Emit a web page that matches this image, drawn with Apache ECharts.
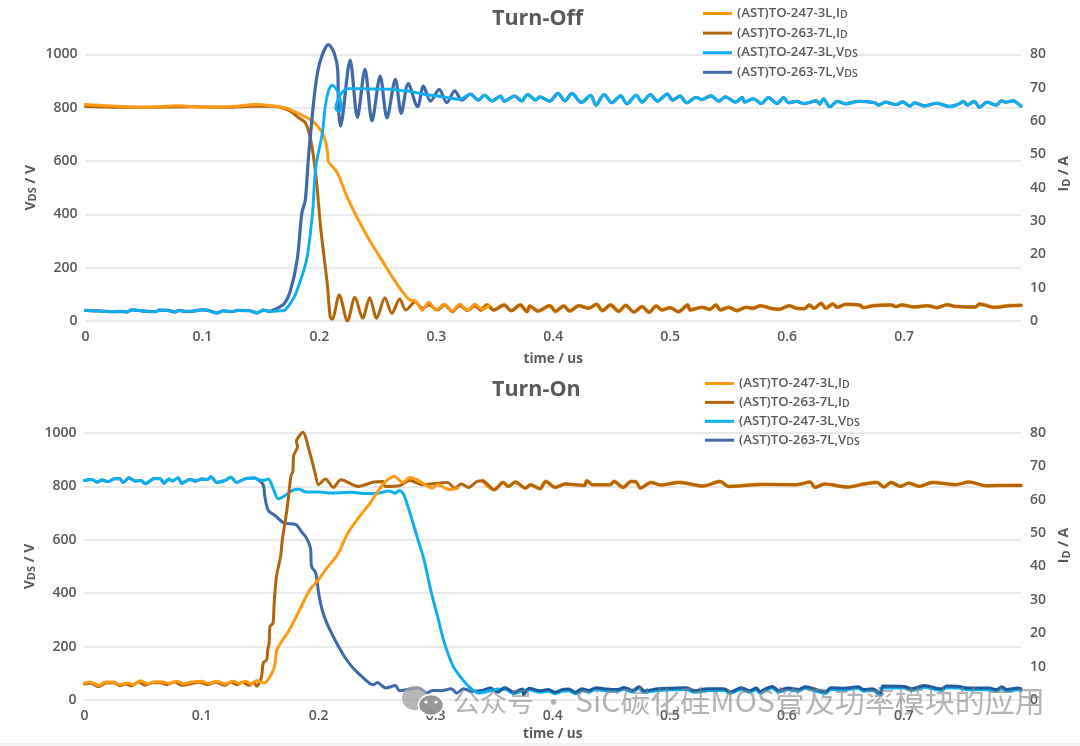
<!DOCTYPE html>
<html>
<head>
<meta charset="utf-8">
<style>html,body{margin:0;padding:0;background:#fff}#chart{width:1080px;height:746px}</style>
<script src="https://cdn.jsdelivr.net/npm/echarts@6/dist/echarts.min.js"></script>
</head>
<body>
<div id="chart"></div>
<script>
// Switching waveforms of two SiC MOSFET packages. Time in us, VDS in volts, ID in amperes.
const seriesNames = ['(AST)TO-247-3L,ID', '(AST)TO-263-7L,ID', '(AST)TO-247-3L,VDS', '(AST)TO-263-7L,VDS'];
const xTicksMax = 0.8;

// ---- Turn-off ----
const offVdsBaseT = [0,.01,.02,.03,.035,.04,.05,.06,.063,.07,.077,.08,.085,.09,.1,.105,.112,.118,.125,.13,.14,.147,.152,.157];
const offVdsBaseV = [40,38,35,36,34,42,37,35,41,40,34,40,36,36,42,40,30,38,35,40,39,30,41,36];

const offVds247T = [.165,.17,.176,.18,.189,.194,.197,.2025,.205,.208,.211,.2157,.2186,.217,.214,.2157,.2186,.2245,.24,.26,.27,.28,.29,.30,.31,.32];
const offVds247V = [38,40,72,104,229,400,580,704,804,866,885,860,804,785,797,829,854,872,871,870,865,860,850,845,838,832];

const offVds263T = [.16,.165,.17,.175,.181,.185,.188,.1907,.1966,.201,.2078,.2128,.2157,.2163,.218,.2263,.2325,.239,.245,.252,.2578,.265,.27,.276,.284,.289,.295,.3025,.309,.3158,.3217];
const offVds263V = [40,50,65,110,229,404,454,616,879,979,1037,1004,941,804,731,979,764,944,751,919,762,907,779,891,804,881,825,869,819,864,829];

const offVdsTailT = [.329,.336,.341,.348,.355,.358,.367,.373,.378,.385,.3885,.397,.404,.41,.416,.424,.432,.4365,.4435,.45,.4577,.463,.471,.476,.483,.489,.4975,.502,.5085,.514,.5224,.527,.5348,.5415,.547,.556,.5615,.5636,.571,.578,.584,.5915,.597,.601,.608,.6145,.625,.628,.631,.6365,.643,.65,.6607,.675,.678,.684,.693,.699,.705,.709,.717,.728,.739,.746,.751,.754,.76,.7645,.771,.779,.783,.787,.793,.8];
const offVdsTailV = [851,829,847,826,844,825,844,826,850,829,841,825,854,826,854,820,847,810,850,819,845,815,847,821,850,825,851,829,844,819,839,831,845,825,841,821,839,821,834,816,838,816,838,819,824,816,826,814,834,804,824,815,824,819,810,821,812,822,806,819,807,817,805,812,824,810,824,802,821,810,826,821,826,806];

const offId247T = [0,.02,.05,.08,.1,.13,.145,.16,.17,.176,.185,.1937,.201,.2054,.207,.2078,.2128,.217,.223,.232,.242,.2525,.2613,.27,.2775,.282,.288,.2937,.2996,.307,.3137,.32,.3267,.333,.339,.345];
const offId247A = [65,64.6,64.2,64.6,64.2,64.5,65,64.6,64,63.3,61.8,60.1,57.3,53.8,50.3,47.8,45.8,43.3,37.8,31.3,24.8,18.8,13.8,9.3,6.3,6.1,3.3,5.6,3.3,5,3,5,3.3,5,3.5,4.6];

const offId263T = [0,.03,.06,.09,.12,.145,.16,.17,.176,.182,.188,.192,.195,.198,.201,.204,.207,.2092,.211,.217,.224,.2304,.237,.243,.249,.256,.262,.2687,.274,.282,.288,.2937,.301,.307,.3137,.32,.3267,.333];
const offId263A = [64.4,64.2,64.2,64.3,64.2,64.5,64.5,63.8,62.8,61.1,59.5,55.3,49.3,40.3,28.3,19.3,10.3,1.3,.5,7.8,0,7.1,.8,7,.8,7,2.3,6.6,3.3,5.8,3.8,4.8,3.3,4.8,2.8,4.6,3.1,4.6];

const offIdTailT = [.338,.3437,.349,.358,.364,.3717,.3776,.38,.387,.397,.402,.409,.414,.422,.43,.437,.442,.449,.456,.462,.469,.476,.482,.488,.493,.5,.507,.515,.517,.527,.534,.539,.543,.55,.557,.565,.571,.577,.586,.593,.602,.608,.615,.619,.623,.629,.633,.639,.643,.65,.662,.665,.674,.689,.693,.698,.709,.72,.728,.737,.743,.761,.7645,.777,.79,.8];
const offIdTailA = [3.3,4.8,3.3,4.8,3.1,4.8,2.8,4.5,3,4.6,2.9,4.5,3,4.6,3.8,5,3.1,4.8,2.9,4.7,2.7,4.3,2.6,4.5,3.3,4,2.8,4.8,3.3,4.1,3.5,4.8,3.3,4.1,3.1,4.1,3.8,4.6,3.8,3.5,4.6,3.8,3.7,4.8,3.8,5.3,3.8,5.1,4.1,5,4.8,4,4.6,4.8,4.3,4.8,4.2,4.6,4,4.9,4.4,4.2,5.1,4.1,4.6,4.7];

// ---- Turn-on ----
const onVdsStartT = [0,.006,.011,.015,.02,.025,.03,.033,.038,.043,.048,.052,.055,.06,.065,.068,.072,.075,.08,.083,.09,.095,.1,.105,.108,.113,.12,.125,.13,.138,.145,.148];
const onVdsStartV = [822,826,816,824,818,828,830,814,832,820,822,810,818,830,828,812,828,820,832,812,826,820,828,826,836,815,822,834,815,830,831,826];

const onVds247T = [.1527,.157,.1615,.1654,.1704,.1778,.183,.1896,.2014,.21,.228,.24,.2515,.26,.2656,.269,.2727,.278,.284,.29,.2957,.3016,.3075,.315,.322,.3296,.337,.344,.352];
const onVds247V = [822,828,788,754,763,785,789,779,779,775,778,773,775,783,775,785,769,700,613,526,413,313,213,126,82,45,26,32,40];

const onVds247TailT = [.352,.36,.3665,.374,.38,.389,.396,.402,.408,.4136,.4195,.425,.431,.437,.446,.455,.461,.468,.474,.478,.49,.499,.514,.521,.5315,.546,.552,.561,.568,.574,.577,.5816,.5875,.593,.601,.61,.6155,.623,.633,.6376,.649,.661,.6656,.673,.68,.682,.7,.707,.717,.732,.7365,.747,.754,.773,.779,.7835,.788,.797,.8];
const onVds247TailV = [40,40,24,35,38,29,33,24,33,35,24,36,30,40,35,33,41,30,44,29,36,38,40,29,36,36,26,40,29,39,26,36,45,30,39,33,44,36,25,40,38,44,33,36,20,46,45,36,48,36,46,45,39,39,33,44,33,39,36];

const onVds263T = [.1527,.154,.157,.163,.1704,.1807,.185,.1896,.193,.194,.1975,.2,.203,.207,.2146,.222,.2294,.2367,.244,.247,.25,.2574,.2656,.269,.278,.2854,.2927,.297,.3045,.3134,.318,.3237,.33];
const onVds263V = [806,763,710,690,663,657,632,607,569,500,476,401,338,288,220,163,120,89,61,57,66,45,54,35,41,45,26,36,35,42,26,42,32];

const onVds263TailT = [.33,.34,.347,.353,.359,.3665,.374,.375,.38,.389,.396,.402,.408,.4136,.4195,.425,.431,.437,.446,.455,.461,.468,.474,.478,.49,.499,.514,.521,.5315,.546,.552,.561,.568,.574,.577,.5816,.5875,.593,.601,.61,.6155,.623,.633,.6376,.649,.661,.6656,.673,.68,.682,.7,.707,.717,.732,.7365,.747,.754,.773,.779,.7835,.788,.797,.8];
const onVds263TailV = [32,36,45,29,47,29,41,20,44,35,39,29,39,41,29,42,36,46,41,39,47,36,50,35,42,44,46,35,42,42,31,46,35,45,32,42,51,36,45,39,50,42,31,46,44,50,39,42,26,52,51,42,54,42,52,51,45,45,39,50,39,45,42];

const onId247T = [0,.005,.012,.018,.025,.03,.037,.042,.048,.054,.06,.067,.072,.079,.085,.09,.1,.106,.113,.12,.127,.132,.138,.142,.147,.154,.1586,.1624,.164,.1675,.175,.1837,.1925,.2,.207,.216,.225,.2338,.244,.2515,.259,.2647,.272,.278,.284,.291,.297,.3016,.312,.319];
const onId247A = [5,5.4,4.4,5.4,5.4,4.6,5.1,4.6,5.8,4.8,5.5,5.4,5,5.6,4.8,5.3,5.6,5,5.6,4.8,5.6,5,5.6,4.8,5.8,5.1,7.1,10.1,14.6,17,21,27,33,36.1,39.5,43.5,50,54.5,59,63,66,67,65.2,66.7,66,64.5,63.5,64.5,63,63.5];

const onId263T = [0,.005,.012,.018,.025,.03,.035,.04,.046,.052,.058,.065,.07,.077,.083,.09,.098,.105,.112,.12,.125,.13,.135,.14,.145,.147,.151,.1527,.1557,.1565,.1577,.1585,.161,.162,.164,.1675,.169,.1733,.1763,.178,.1785,.182,.181,.1845,.1865,.1925,.197,.2,.2058,.2126,.219,.2338,.247,.255,.2568,.269,.278,.288,.31,.3163,.322,.328,.3355];
const onId263A = [4.8,5,4,5.1,5.2,4.3,4.8,4.2,5.4,4.4,5.2,5.2,4.6,5.4,4.4,4.8,5.3,4.6,5.3,4.4,5.3,4.6,5.3,4.4,5.2,4.1,6.6,11.1,12.1,15,17,22.1,23,29,37,43,48,58,67,68.5,73,76,77.5,79.6,80.2,74,68,64.5,66.2,63.7,66,64,65.3,65.5,64,64.2,65.8,64.5,65.2,63.5,64.7,63.7,65.5];

const onIdTailT = [.34,.35,.3576,.362,.368,.3768,.381,.389,.394,.402,.4106,.427,.429,.434,.449,.4525,.46,.467,.471,.475,.484,.492,.508,.5286,.543,.55,.5787,.608,.62,.624,.632,.652,.6656,.677,.683,.689,.697,.704,.713,.7246,.744,.7556,.77,.788,.8];
const onIdTailA = [65.7,63,65.2,64,65.3,63.5,64.5,63.3,65.5,63.7,64.7,64.3,65.7,64.5,64.5,65.5,63.7,65.5,65.4,63.5,65.2,64.4,65.2,64.1,65.5,64,64.6,64.5,65.3,63.7,64.7,63.8,64.7,65.2,63.8,65.2,64,65,64,65.2,64.5,65.3,64.2,64.3,64.3];

const colors = { id247: '#FF9A12', id263: '#B4650C', vds247: '#0CB0F0', vds263: '#3F69A9', vds263Overlap: '#1C5A9F' };
const labelGrey = '#595959';
const uiFont = '"Open Sans", "Noto Sans", sans-serif';

const zip = (ts, vs) => ts.map((t, i) => [t, vs[i]]);
const trace = (name, color, idx, yIdx, data, z, width) => ({
  type: 'line', name, xAxisIndex: idx, yAxisIndex: yIdx, data, z,
  showSymbol: false, smooth: 0.3, smoothMonotone: null, clip: false,
  lineStyle: { color, width: width || 3, cap: 'round', join: 'round' },
  itemStyle: { color }, emphasis: { disabled: true }
});

const series = [
  // Turn-off panel: left axes index 0, right axes index 1
  trace(seriesNames[0], colors.id247, 0, 1, zip(offIdTailT, offIdTailA), 2, 3.8),
  trace(seriesNames[1], colors.id263, 0, 1, zip(offId263T.concat(offIdTailT), offId263A.concat(offIdTailA)), 3),
  trace(seriesNames[0], colors.id247, 0, 1, zip(offId247T, offId247A), 4),
  trace(seriesNames[3], colors.vds263, 0, 0, zip(offVdsBaseT.concat(offVds263T, offVdsTailT), offVdsBaseV.concat(offVds263V, offVdsTailV)), 5, 3.2),
  trace(seriesNames[2], colors.vds247, 0, 0, zip(offVdsBaseT.concat(offVds247T, offVdsTailT), offVdsBaseV.concat(offVds247V, offVdsTailV)), 6, 2.9),
  // Turn-on panel: left axes index 2, right axes index 3
  trace(seriesNames[2], colors.vds247, 1, 2, zip(onVds247TailT, onVds247TailV), 2, 3.2),
  trace(seriesNames[3], colors.vds263, 1, 2, zip(onVdsStartT.concat(onVds263T), onVdsStartV.concat(onVds263V)), 3),
  trace(seriesNames[3], colors.vds263Overlap, 1, 2, zip(onVds263TailT, onVds263TailV), 3),
  trace(seriesNames[2], colors.vds247, 1, 2, zip(onVdsStartT.concat(onVds247T), onVdsStartV.concat(onVds247V)), 4),
  trace(seriesNames[0], colors.id247, 1, 3, zip(onIdTailT, onIdTailA), 5, 3.6),
  trace(seriesNames[1], colors.id263, 1, 3, zip(onId263T.concat(onIdTailT), onId263A.concat(onIdTailA)), 6),
  trace(seriesNames[0], colors.id247, 1, 3, zip(onId247T, onId247A), 7)
];

const axisText = { color: labelGrey, fontFamily: uiFont, fontWeight: 600, fontSize: 14 };
const subRich = {
  m: { color: labelGrey, fontFamily: uiFont, fontWeight: 700, fontSize: 14 },
  s: { color: labelGrey, fontFamily: uiFont, fontWeight: 700, fontSize: 11, verticalAlign: 'bottom', padding: [4, 0, 0, 0] }
};

const xAxisFor = (gridIndex, nameGap) => ({
  type: 'value', gridIndex, min: 0, max: xTicksMax, interval: 0.1,
  name: 'time / us', nameLocation: 'middle', nameGap, nameMoveOverlap: false,
  nameTextStyle: { color: labelGrey, fontFamily: uiFont, fontWeight: 700, fontSize: 13.5 },
  axisLine: { show: false }, axisTick: { show: false }, splitLine: { show: false },
  axisLabel: Object.assign({ margin: 9, showMaxLabel: false, formatter: v => (v === 0 ? '0' : v.toFixed(1)) }, axisText)
});
const leftAxisFor = gridIndex => ({
  type: 'value', gridIndex, min: 0, max: 1000, interval: 200,
  name: '{m|V}{s|DS}{m| / V}', nameLocation: 'middle', nameGap: 47, nameRotate: 90, nameMoveOverlap: false,
  nameTextStyle: { rich: subRich },
  axisLine: { show: false }, axisTick: { show: false },
  splitLine: { show: true, lineStyle: { color: '#E2E2E2', width: 1.5 } },
  axisLabel: Object.assign({ margin: 8, formatter: v => String(v) }, axisText)
});
const rightAxisFor = (gridIndex, lift) => ({
  type: 'value', gridIndex, position: 'right', min: 0, max: 80, interval: 10,
  name: '{m|I}{s|D}{m| / A}', nameLocation: 'middle', nameGap: 36, nameRotate: 90, nameMoveOverlap: false,
  nameTextStyle: { rich: subRich, padding: [0, 0, 0, lift] },
  axisLine: { show: false }, axisTick: { show: false }, splitLine: { show: false },
  axisLabel: Object.assign({ margin: 9, align: 'left', formatter: v => String(v) }, axisText)
});

const legendFor = (left, top, itemGap) => ({
  orient: 'vertical', left, top, padding: 0, itemWidth: 29, itemHeight: 3, itemGap, icon: 'rect',
  data: seriesNames, selectedMode: false,
  formatter: n => {
    const m = n.match(/^(.*,[IV])(D?S?)$/);
    return `{n|${m[1]}}{b|${m[2]}}`;
  },
  textStyle: {
    rich: {
      n: { color: labelGrey, fontFamily: uiFont, fontWeight: 600, fontSize: 13.2 },
      b: { color: labelGrey, fontFamily: uiFont, fontWeight: 600, fontSize: 10.5, verticalAlign: 'bottom', padding: [3, 0, 0, 0] }
    }
  }
});

const titleFor = (text, top) => ({
  text, left: 492, top, padding: 0,
  textStyle: { color: labelGrey, fontFamily: uiFont, fontWeight: 700, fontSize: 21.5 }
});

const chart = echarts.init(document.getElementById('chart'), null, { renderer: 'canvas' });
chart.setOption({
  animation: false,
  backgroundColor: '#fff',
  title: [titleFor('Turn-Off', 8), titleFor('Turn-On', 379)],
  legend: [legendFor(703, 7, 6.1), legendFor(705, 377, 5.4)],
  grid: [
    { left: 85.5, top: 54.5, width: 936.5, height: 266.5 },
    { left: 84.5, top: 433, width: 938.5, height: 267 }
  ],
  xAxis: [xAxisFor(0, 31), xAxisFor(1, 27)],
  yAxis: [leftAxisFor(0), rightAxisFor(0, 28), leftAxisFor(1), rightAxisFor(1, 42)],
  series,
  graphic: [
    { type: 'rect', z: 50, silent: true, shape: { x: 0, y: 743, width: 1080, height: 3 }, style: { fill: '#F3F3F3' } },
    { type: 'ellipse', z: 50, silent: true, shape: { cx: 415, cy: 698, rx: 13, ry: 12 }, style: { fill: 'rgba(165,165,165,0.8)' } },
    { type: 'ellipse', z: 51, silent: true, shape: { cx: 431, cy: 705, rx: 12.5, ry: 10.5 }, style: { fill: 'rgba(145,145,145,0.95)', stroke: '#fff', lineWidth: 1.5 } },
    { type: 'circle', z: 52, silent: true, shape: { cx: 426, cy: 702, r: 1.6 }, style: { fill: '#fff' } },
    { type: 'circle', z: 52, silent: true, shape: { cx: 436, cy: 702, r: 1.6 }, style: { fill: '#fff' } },
    { type: 'text', z: 53, silent: true, x: 453, y: 688,
      style: { text: '公众号 ·', fill: 'rgba(130,130,130,0.6)', fontFamily: '"Noto Sans CJK SC", sans-serif', fontSize: 27 } },
    { type: 'text', z: 53, silent: true, x: 575, y: 686,
      style: { text: 'SiC碳化硅MOS管及功率模块的应用', fill: 'rgba(130,130,130,0.6)', fontFamily: '"Noto Sans CJK SC", sans-serif', fontSize: 30 } }
  ]
});
</script>
</body>
</html>
